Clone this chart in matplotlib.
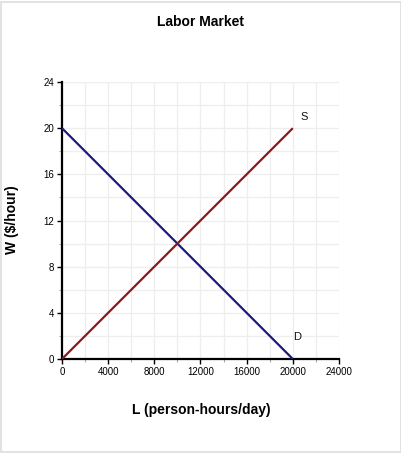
import matplotlib
matplotlib.use("Agg")
import matplotlib.pyplot as plt
from matplotlib.patches import Rectangle
from matplotlib.ticker import MultipleLocator

plt.rcParams['font.family'] = ['Liberation Sans', 'DejaVu Sans']

# Data
demand_L = [0, 20000]
demand_W = [20, 0]
supply_L = [0, 20000]
supply_W = [0, 20]
x_ticks = [0, 4000, 8000, 12000, 16000, 20000, 24000]
y_ticks = [0, 4, 8, 12, 16, 20, 24]
labels = [("S", 21000, 21.0), ("D", 20400, 1.9)]

fig = plt.figure(figsize=(4.02, 4.54), dpi=100)
fig.patches.append(Rectangle((0.003, 0.004), 0.994, 0.991, transform=fig.transFigure,
                             fill=False, edgecolor='#dddddd', linewidth=1.2))
ax = fig.add_axes([62/402, 95/454, 277/402, 277/454])

ax.plot(demand_L, demand_W, color='#1c1c80', linewidth=1.6, solid_capstyle='butt', zorder=3)
ax.plot(supply_L, supply_W, color='#8b1a1a', linewidth=1.6, solid_capstyle='butt', zorder=3)
for t, x, y in labels:
    ax.text(x, y, t, fontsize=8, ha='center', va='center', color='#111111')

ax.set_xlim(0, 24000)
ax.set_ylim(0, 24)
ax.set_xticks(x_ticks)
ax.set_yticks(y_ticks)
ax.xaxis.set_minor_locator(MultipleLocator(2000))
ax.yaxis.set_minor_locator(MultipleLocator(2))
ax.grid(True, which='both', color='#eeeeee', linewidth=0.9, zorder=0)
ax.set_axisbelow(True)
for s in ['top', 'right']:
    ax.spines[s].set_visible(False)
for s in ['left', 'bottom']:
    ax.spines[s].set_linewidth(1.6)
    ax.spines[s].set_color('black')
ax.tick_params(which='major', length=3.5, width=1, labelsize=7, pad=2, colors='black')
ax.tick_params(which='minor', length=2.5, width=0.8, color='#aaaaaa')

fig.text(0.5, 1 - 22/454, "Labor Market", fontsize=10, fontweight='bold',
         ha='center', va='center')
fig.text(0.5, 1 - 410/454, "L (person-hours/day)", fontsize=10, fontweight='bold',
         ha='center', va='center')
fig.text(12/402, 1 - 220/454, "W ($/hour)", fontsize=10, fontweight='bold',
         ha='center', va='center', rotation=90)

fig.savefig("out.png", dpi=100)
